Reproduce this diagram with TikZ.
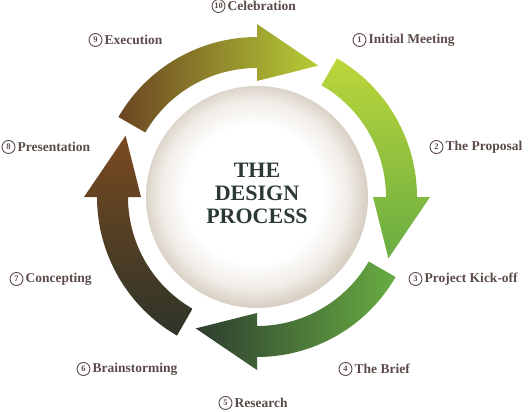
\documentclass[tikz,border=0pt]{standalone}
\usepackage{fontspec}
\setmainfont{Liberation Serif}
\usetikzlibrary{calc}
\definecolor{labc}{HTML}{5B4B48}
\definecolor{titc}{HTML}{2B3A33}
\definecolor{brownA}{HTML}{6B4522}
\definecolor{yellowG}{HTML}{B7CD36}
\definecolor{limeG}{HTML}{BCD63A}
\definecolor{midG}{HTML}{68AD42}
\definecolor{darkG}{HTML}{2D3D2F}
\definecolor{darkB}{HTML}{2D3429}
\definecolor{brownB}{HTML}{7A4A1F}
\definecolor{discA}{HTML}{F1EDE8}
\definecolor{discB}{HTML}{D9D1C5}
\definecolor{discC}{HTML}{CEC5B8}
\pgfdeclareradialshading{discshade}{\pgfpoint{-1bp}{1bp}}{color(0bp)=(white); color(15.5bp)=(white); color(21bp)=(discA); color(25bp)=(discB); color(30bp)=(discC); color(50bp)=(discC)}
\tikzset{
  numc/.style={circle, draw=labc, line width=0.9pt, minimum size=13pt, inner sep=0pt, text=labc, font=\fontsize{8.5}{9}\selectfont\bfseries},
  labt/.style={anchor=west, inner sep=0pt, xshift=2pt, text=labc, font=\fontsize{13.5}{14}\selectfont\bfseries},
  titl/.style={align=center, text=titc, font=\fontsize{22}{23}\selectfont\bfseries}
}
% arrow path: #1 tail angle
\newcommand{\ringarrow}[1]{%
  ($(c)+(#1:160)$) arc[start angle=#1, end angle=#1-60, radius=160]
  -- ($(c)+(#1-60:173)$) -- ($(c)+(#1-85:145)$) -- ($(c)+(#1-60:116)$)
  -- ($(c)+(#1-60:129)$) arc[start angle=#1-60, end angle=#1, radius=129] -- cycle}
\begin{document}
\begin{tikzpicture}[x=1pt,y=1pt]
\useasboundingbox (0,-412) rectangle (530,0);
\coordinate (c) at (257,-197);
% inner disc
\shade[shading=discshade] (c) circle[radius=111];
\node[titl] (title) at (257,-193) {THE\\DESIGN\\PROCESS};
% arrows
\shade[left color=brownA, right color=yellowG] \ringarrow{150};
\shade[top color=limeG, bottom color=midG] \ringarrow{60};
\shade[right color=midG, left color=darkG] \ringarrow{-30};
\shade[bottom color=darkB, top color=brownB] \ringarrow{-120};
% labels
\node[numc] (n10) at (218.5,-6) {10};
\node[labt] (t10) at (n10.east) {Celebration};
\node[numc] (n9) at (95.5,-40) {9};
\node[labt] (t9) at (n9.east) {Execution};
\node[numc] (n1) at (359.5,-40) {1};
\node[labt] (t1) at (n1.east) {Initial Meeting};
\node[numc] (n2) at (436.5,-147) {2};
\node[labt] (t2) at (n2.east) {The Proposal};
\node[numc] (n3) at (415.5,-279) {3};
\node[labt] (t3) at (n3.east) {Project Kick-off};
\node[numc] (n4) at (345.5,-369) {4};
\node[labt] (t4) at (n4.east) {The Brief};
\node[numc] (n5) at (225.5,-403) {5};
\node[labt] (t5) at (n5.east) {Research};
\node[numc] (n6) at (83.5,-369) {6};
\node[labt] (t6) at (n6.east) {Brainstorming};
\node[numc] (n7) at (16.5,-279) {7};
\node[labt] (t7) at (n7.east) {Concepting};
\node[numc] (n8) at (8.5,-147) {8};
\node[labt] (t8) at (n8.east) {Presentation};
\end{tikzpicture}
\end{document}
